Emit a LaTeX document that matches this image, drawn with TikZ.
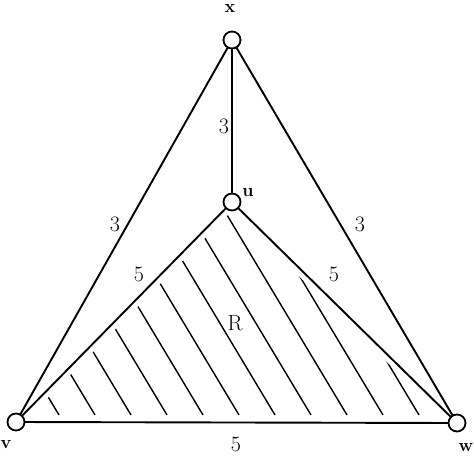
\documentclass[tikz,border=0pt]{standalone}
\usepackage{tikz}
\begin{document}
\begin{tikzpicture}[x=1pt,y=-1pt,
  vtx/.style={circle,draw,fill=white,minimum size=17pt,inner sep=0pt,line width=1.8pt},
  edge/.style={line width=1.9pt},
  hatch/.style={line width=1.4pt},
  wlab/.style={inner sep=0pt,font=\fontsize{22}{22}\selectfont},
  vlab/.style={inner sep=0pt,font=\fontsize{18}{18}\selectfont\bfseries}]
\useasboundingbox (0,0) rectangle (474,472);
% hatching of region R
\begin{scope}
  \clip (232,211) -- (31,415) -- (441,415) -- cycle;
  \foreach \k in {0,...,10}{
    \draw[hatch] ({59+36*\k},415) -- ++(-150,-250);
  }
\end{scope}
% edges
\coordinate (cx) at (232,40);
\coordinate (cu) at (232,202);
\coordinate (cv) at (16,422);
\coordinate (cw) at (457,423);
\draw[edge] (cx) -- (cu);
\draw[edge] (cx) -- (cv);
\draw[edge] (cx) -- (cw);
\draw[edge] (cu) -- (cv);
\draw[edge] (cu) -- (cw);
\draw[edge] (cv) -- (cw);
% vertices
\node[vtx] (x) at (cx) {};
\node[vtx] (u) at (cu) {};
\node[vtx] (v) at (cv) {};
\node[vtx] (w) at (cw) {};
% vertex labels
\node[vlab] (lx) at (230,9) {x};
\node[vlab] (lu) at (248,192) {u};
\node[vlab] (lv) at (6,445) {v};
\node[vlab] (lw) at (466,448) {w};
% weights
\node[wlab] (wxu) at (224,126) {3};
\node[wlab] (wxv) at (115,224) {3};
\node[wlab] (wxw) at (360,224) {3};
\node[wlab] (wuv) at (139,274) {5};
\node[wlab] (wuw) at (334,274) {5};
\node[wlab] (wvw) at (236,444) {5};
\node[wlab] (R) at (235,323) {R};
\end{tikzpicture}
\end{document}
